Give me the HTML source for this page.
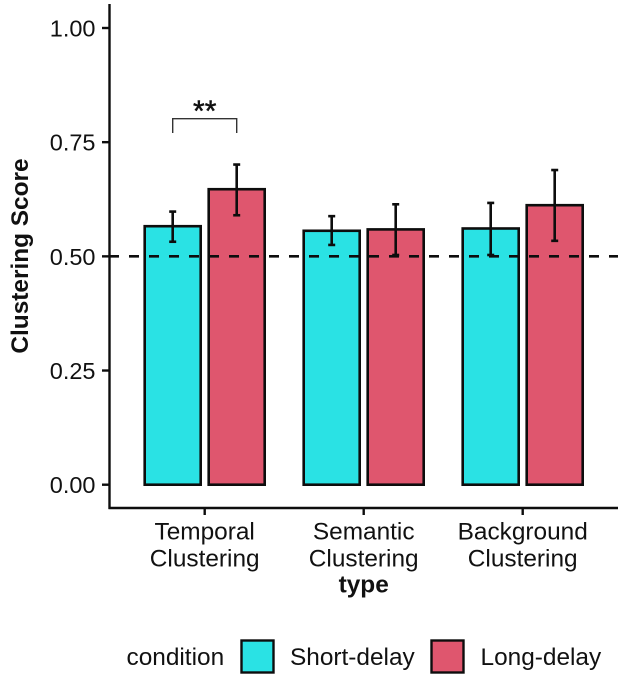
<!DOCTYPE html>
<html>
<head>
<meta charset="utf-8">
<title>Clustering Score chart</title>
<style>
html,body{margin:0;padding:0;background:#fff;width:624px;height:685px;overflow:hidden}
svg{display:block;filter:blur(0.35px)}
text{font-family:"Liberation Sans",sans-serif;fill:#111}
</style>
</head>
<body>
<svg id="chart" width="624" height="685" viewBox="0 0 624 685" xmlns="http://www.w3.org/2000/svg"></svg>
<script>
const categories = [["Temporal","Clustering"],["Semantic","Clustering"],["Background","Clustering"]];
const seriesNames = ["Short-delay","Long-delay"];
const shortDelay = [0.566,0.556,0.561];
const longDelay = [0.647,0.559,0.612];
const shortLower = [0.532,0.525,0.503];
const shortUpper = [0.598,0.588,0.617];
const longLower = [0.590,0.503,0.534];
const longUpper = [0.701,0.614,0.689];
const yTicks = [0,0.25,0.5,0.75,1];
const yTickLabels = ["0.00","0.25","0.50","0.75","1.00"];
const referenceLine = 0.5;
const sigPair = [0,0];
const sigLabel = "**";

const svg = document.getElementById('chart');
const NS = 'http://www.w3.org/2000/svg';
const colors = ['#2ae2e4','#df566e'];
const ink = '#0d0d0d';
function y(v){ return 484.7 - v*456.7; }
function xCat(i){ return 204.7 + i*159; }
const barOffset = [-32, 32];
const barW = 56;
function make(tag, attrs, parent){
  const el = document.createElementNS(NS, tag);
  for (const k in attrs) el.setAttribute(k, attrs[k]);
  (parent||svg).appendChild(el);
  return el;
}
function label(str, x0, y0, size, anchor, weight){
  const t = make('text',{x:x0,y:y0,'font-size':size,'text-anchor':anchor||'middle','font-weight':weight||'normal'});
  t.textContent = str;
  return t;
}

const series = [
  {vals:shortDelay, lo:shortLower, hi:shortUpper},
  {vals:longDelay, lo:longLower, hi:longUpper}
];

// bars
series.forEach((s,si)=>{
  s.vals.forEach((v,i)=>{
    const cx = xCat(i)+barOffset[si];
    const r = make('rect',{x:cx-barW/2,y:y(v),width:barW,height:y(0)-y(v),fill:colors[si],stroke:ink,'stroke-width':2.6});
    
    
  });
});

// reference line
const refLine = make('line',{x1:109,x2:618,y1:y(referenceLine),y2:y(referenceLine),stroke:ink,'stroke-width':2.6,'stroke-dasharray':'10 10'});



// error bars
series.forEach((s,si)=>{
  s.vals.forEach((v,i)=>{
    const cx = xCat(i)+barOffset[si];
    const g = make('g',{stroke:ink,'stroke-width':2.6,fill:'none'});
    
    
    make('line',{x1:cx,x2:cx,y1:y(s.hi[i]),y2:y(s.lo[i])},g);
    make('line',{x1:cx-3.5,x2:cx+3.5,y1:y(s.hi[i]),y2:y(s.hi[i])},g);
    make('line',{x1:cx-3.5,x2:cx+3.5,y1:y(s.lo[i]),y2:y(s.lo[i])},g);
  });
});

// axes
const yAxis = make('line',{x1:109.5,x2:109.5,y1:4,y2:509,stroke:ink,'stroke-width':2.4});


const xAxis = make('line',{x1:108.5,x2:618,y1:508,y2:508,stroke:ink,'stroke-width':2.4});



yTicks.forEach((v,i)=>{
  const tick = make('line',{x1:102,x2:109,y1:y(v),y2:y(v),stroke:ink,'stroke-width':2.4});
  
  
  const t = label(yTickLabels[i],95.5,y(v)+8.5,23.5,'end');
  
  
});

categories.forEach((c,i)=>{
  const tick = make('line',{x1:xCat(i),x2:xCat(i),y1:508,y2:515,stroke:ink,'stroke-width':2.4});
  
  
  const a = label(c[0],xCat(i),539.5,24.4);
  
  
  const b = label(c[1],xCat(i),566.5,24.4);
  
  
});

// axis titles
const xTitle = label('type',363.7,592.5,24.4,'middle','bold');


const yTitle = label('Clustering Score',0,0,24.4,'middle','bold');
yTitle.setAttribute('x', 0);
yTitle.setAttribute('y', 0);
yTitle.setAttribute('transform', 'translate(28,256) rotate(-90)');



// significance bracket
const bx0 = xCat(sigPair[0])+barOffset[0];
const bx1 = xCat(sigPair[1])+barOffset[1];
const bracket = make('path',{d:'M'+bx0+' 133V118.7H'+bx1+'V133',fill:'none',stroke:'#333','stroke-width':1.4});


const star = label(sigLabel,(bx0+bx1)/2,121,30);
star.setAttribute('stroke', '#111');
star.setAttribute('stroke-width', '0.5');



// legend
const legTitle = label('condition',126.5,665,24.4,'start');


const legendBoxX = [241.5,431.5];
const legendTextX = [290,480.5];
seriesNames.forEach((n,i)=>{
  const box = make('rect',{x:legendBoxX[i],y:640.5,width:32,height:32,fill:colors[i],stroke:ink,'stroke-width':2.4});
  
  
  const t = label(n,legendTextX[i],665,24.4,'start');
  
  
});
</script>
</body>
</html>
